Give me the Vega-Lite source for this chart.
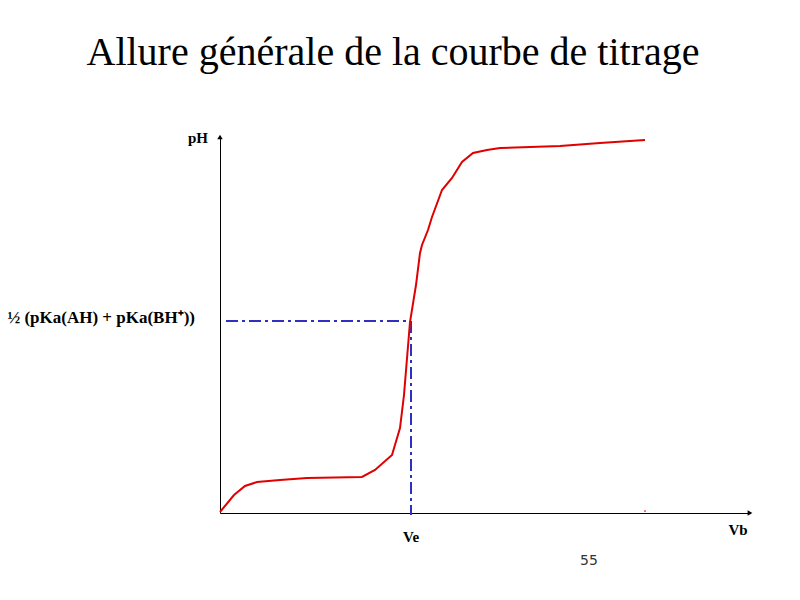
{
  "$schema": "https://vega.github.io/schema/vega-lite/v6.json",
  "description": "Allure générale de la courbe de titrage",
  "autosize": "none",
  "padding": {"left": 220, "top": 137, "right": 50, "bottom": 87},
  "width": 530,
  "height": 376,
  "background": "white",
  "title": {
    "text": "Allure générale de la courbe de titrage",
    "font": "Liberation Serif",
    "fontSize": 40,
    "fontWeight": "normal",
    "color": "black",
    "anchor": "middle",
    "baseline": "alphabetic",
    "dx": -92,
    "offset": 26
  },
  "config": {
    "view": {"stroke": null},
    "text": {"font": "Liberation Serif", "fontWeight": "bold", "fontSize": 15, "color": "black"}
  },
  "datasets": {
    "curve": [
      {"vb": 0, "ph": 1},
      {"vb": 14, "ph": 18},
      {"vb": 25, "ph": 27},
      {"vb": 37, "ph": 31},
      {"vb": 60, "ph": 33},
      {"vb": 87, "ph": 35},
      {"vb": 142, "ph": 36},
      {"vb": 155, "ph": 43},
      {"vb": 172, "ph": 58},
      {"vb": 180, "ph": 85},
      {"vb": 184, "ph": 118},
      {"vb": 190, "ph": 191},
      {"vb": 196, "ph": 228},
      {"vb": 200, "ph": 260},
      {"vb": 202, "ph": 268},
      {"vb": 208, "ph": 283},
      {"vb": 212, "ph": 296},
      {"vb": 222, "ph": 323},
      {"vb": 232, "ph": 335},
      {"vb": 242, "ph": 351},
      {"vb": 253, "ph": 360},
      {"vb": 267, "ph": 363},
      {"vb": 280, "ph": 365},
      {"vb": 340, "ph": 367},
      {"vb": 380, "ph": 370},
      {"vb": 425, "ph": 373}
    ],
    "guides": [
      {"x": 6, "y": 192, "x2": 190, "y2": 192},
      {"x": 191, "y": 192, "x2": 191, "y2": -2}
    ],
    "arrows": [
      {"x": 0, "y": 376, "shape": "triangle-up"},
      {"x": 530, "y": 0, "shape": "triangle-right"}
    ],
    "labels": [
      {"x": -22, "y": 375, "label": "pH"},
      {"x": 191, "y": -24, "label": "Ve"},
      {"x": 518, "y": -17, "label": "Vb"}
    ]
  },
  "layer": [
    {
      "data": {"name": "guides"},
      "mark": {"type": "rule", "color": "#3030c0", "strokeWidth": 2, "strokeDash": [12, 4, 3, 4]},
      "encoding": {
        "x": {"field": "x", "type": "quantitative", "scale": {"domain": [0, 530], "nice": false}, "axis": {"domain": true, "domainColor": "black", "domainWidth": 1, "ticks": false, "labels": false, "grid": false, "title": null}},
        "y": {"field": "y", "type": "quantitative", "scale": {"domain": [0, 376], "nice": false}, "axis": {"domain": true, "domainColor": "black", "domainWidth": 1, "ticks": false, "labels": false, "grid": false, "title": null}},
        "x2": {"field": "x2"},
        "y2": {"field": "y2"}
      }
    },
    {
      "data": {"name": "curve"},
      "mark": {"type": "line", "color": "#e00000", "strokeWidth": 2, "clip": false},
      "encoding": {
        "x": {"field": "vb", "type": "quantitative"},
        "y": {"field": "ph", "type": "quantitative"}
      }
    },
    {
      "data": {"values": [{"x": 425, "y": 2}]},
      "mark": {"type": "point", "filled": true, "color": "#e00000", "size": 3, "opacity": 1},
      "encoding": {
        "x": {"field": "x", "type": "quantitative"},
        "y": {"field": "y", "type": "quantitative"}
      }
    },
    {
      "data": {"name": "arrows"},
      "mark": {"type": "point", "filled": true, "color": "black", "size": 30, "opacity": 1, "clip": false},
      "encoding": {
        "x": {"field": "x", "type": "quantitative"},
        "y": {"field": "y", "type": "quantitative"},
        "shape": {"field": "shape", "type": "nominal", "scale": null, "legend": null}
      }
    },
    {
      "data": {"name": "labels"},
      "mark": {"type": "text", "align": "center", "baseline": "middle", "clip": false},
      "encoding": {
        "x": {"field": "x", "type": "quantitative"},
        "y": {"field": "y", "type": "quantitative"},
        "text": {"field": "label"}
      }
    },
    {
      "data": {"values": [{"x": -25, "y": 195, "label": "½ (pKa(AH) + pKa(BH⁺))"}]},
      "mark": {"type": "text", "align": "right", "baseline": "middle", "fontSize": 17, "clip": false},
      "encoding": {
        "x": {"field": "x", "type": "quantitative"},
        "y": {"field": "y", "type": "quantitative"},
        "text": {"field": "label"}
      }
    },
    {
      "data": {"values": [{"x": 369, "y": -48, "label": "55"}]},
      "mark": {"type": "text", "baseline": "middle", "font": "DejaVu Sans", "fontWeight": "normal", "fontSize": 14, "color": "#333333", "clip": false},
      "encoding": {
        "x": {"field": "x", "type": "quantitative"},
        "y": {"field": "y", "type": "quantitative"},
        "text": {"field": "label"}
      }
    }
  ]
}
